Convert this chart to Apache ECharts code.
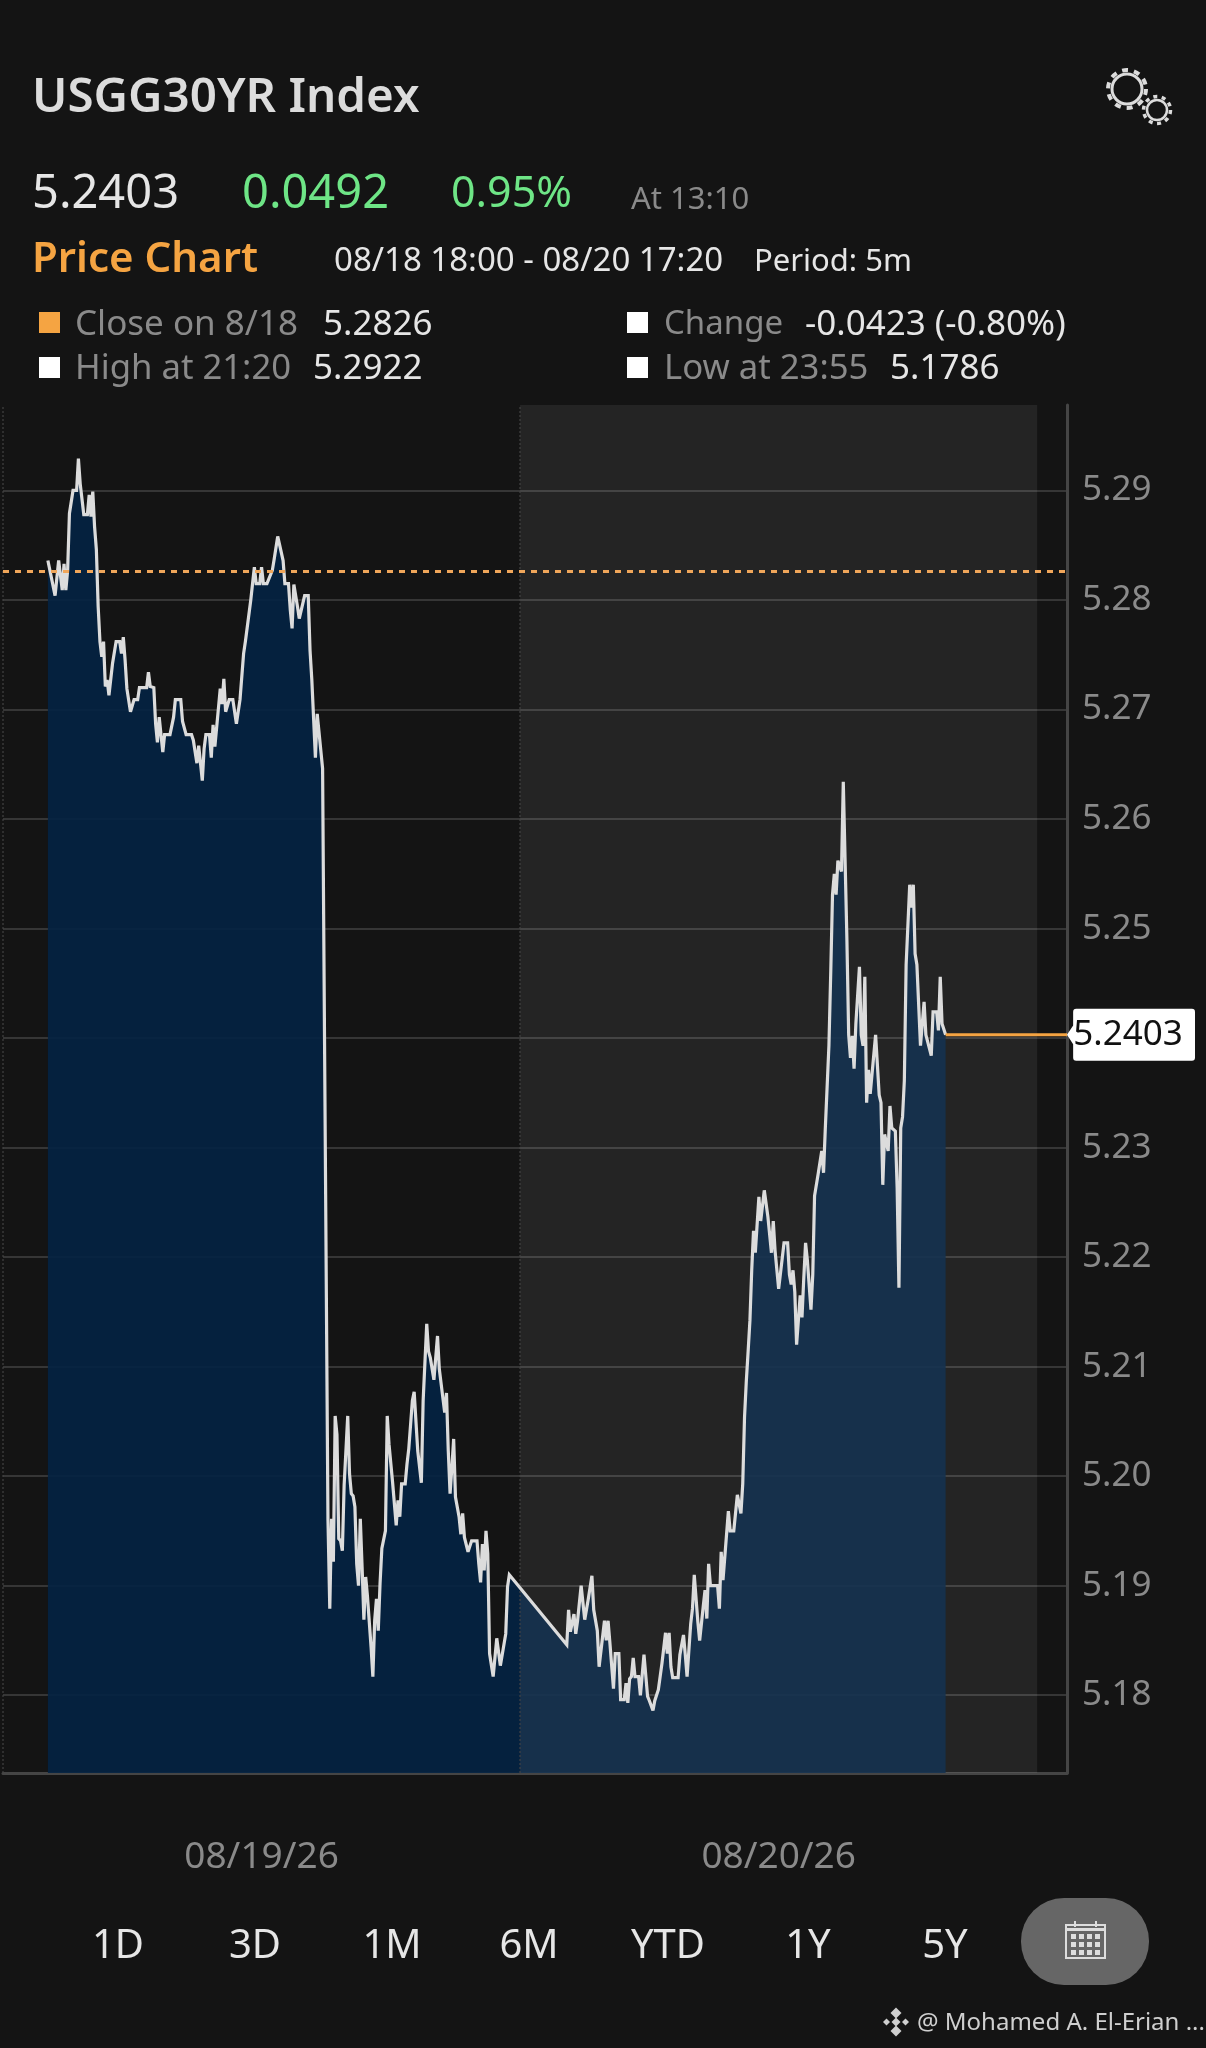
<!DOCTYPE html>
<html>
<head>
<meta charset="utf-8">
<style>html,body{margin:0;padding:0;background:#141414}#c{width:1206px;height:2048px}</style>
<script src="https://cdn.jsdelivr.net/npm/echarts@6/dist/echarts.min.js"></script>
</head>
<body>
<div id="c"></div>
<script>
// minutes since 08/18 18:00
const times = [125,145,150,155,160,165,170,175,180,185,190,195,205,210,215,225,235,240,245,250,255,260,265,270,275,280,285,290,295,305,315,325,330,335,340,345,350,355,360,365,375,380,400,405,410,420,425,430,435,440,445,450,465,475,480,495,500,505,510,525,530,540,545,550,555,560,565,575,580,585,590,595,605,610,615,620,625,630,640,650,655,660,665,670,675,680,690,695,700,705,715,720,725,735,750,755,760,765,770,780,785,795,800,805,810,820,825,830,840,850,855,860,870,875,880,890,895,
905,910,915,920,925,930,935,940,945,950,955,960,965,970,975,980,985,990,995,1000,1005,1010,1015,1025,1030,1035,1040,1045,1050,1055,1065,1070,1075,1085,1090,1095,1100,1105,1110,1120,1125,1130,1135,1140,1145,1150,1155,1165,1170,1180,1185,1190,1195,1200,1210,1215,1220,1230,1235,1240,1245,1250,1255,1260,1270,1275,1280,1285,1295,1300,1305,1320,1325,1330,1335,1340,1345,1350,1355,1360,1365,1375,1385,1390,1400,1405,1410,
1570,1575,1580,1585,1590,1595,1600,1605,1610,1615,1620,1625,1630,1635,1640,1645,1655,1660,1665,1675,1680,1685,1690,1695,1700,1705,1715,1720,1730,1735,1740,1745,1750,1755,1760,1770,1775,1785,1795,1800,1810,1815,1820,1825,1830,1835,1845,1850,1855,1860,1865,1880,1885,1890,1895,1900,1905,1915,1920,1925,1930,1935,1940,1950,1955,1960,1965,1970,1990,1995,2000,2005,2010,2015,2020,2025,2035,2045,2050,2055,2060,2065,2070,2075,
2080,2085,2090,2095,2105,2110,2120,2130,2140,2145,2150,2160,2165,2175,2185,2190,2195,2200,2205,2210,2220,2225,2230,2235,2240,2250,2255,2260,2270,2280,2285,2290,2295,2300,2305,2310,2315,2320,2325,2330,2335,2340,2345,2350,2355,2360,2365,2370,2375,2380,2385,2390,2395,2400,2405,2410,2415,2420,2430,2435,2440,2445,2450,2455,2465,2470,2475,2485,2490,2495,2500,2505,2510,2515,2520,2525,2530,2535,2540,2545,2555,2565,2570,2575,2585,2590,2600,2605,2610,2615,2625];
const yields = [5.2836,5.2804,5.2804,5.2836,5.2836,5.2809,5.2833,5.2809,5.2827,5.2879,5.2879,5.29,5.29,5.2929,5.2906,5.2878,5.2878,5.2896,5.2876,5.2899,5.2867,5.2846,5.2794,5.2762,5.2748,5.2762,5.2721,5.2727,5.2713,5.2742,5.2762,5.2762,5.2751,5.2766,5.2745,5.2719,5.2719,5.2698,5.2698,5.2709,5.2709,5.272,5.272,5.2734,5.2721,5.272,5.2687,5.267,5.2693,5.2677,5.2661,5.2677,5.2677,5.2693,5.2709,5.2709,5.2689,5.2688,5.2677,5.2677,5.2672,5.2651,5.2667,5.2667,5.2635,5.2664,5.2677,5.2677,5.2656,5.2686,5.2666,5.2666,5.2719,5.2705,5.2728,5.2698,5.2698,5.2709,5.2709,5.2687,5.2687,5.2709,5.2709,5.2751,5.2762,5.2762,5.28,5.2815,5.283,5.2815,5.2815,5.283,5.2815,5.2815,5.2827,5.2837,5.2837,5.2858,5.2858,5.2836,5.2815,5.2815,5.2791,5.2774,5.2814,5.2794,5.2783,5.2783,5.2804,5.2804,5.2754,5.2727,5.2656,5.2696,5.2696,5.2646,5.2645,
5.196,5.1879,5.1961,5.1922,5.2055,5.2038,5.1943,5.1941,5.1932,5.1992,5.1992,5.2055,5.2002,5.1984,5.1982,5.1972,5.192,5.19,5.1961,5.1917,5.1869,5.1908,5.189,5.1844,5.1817,5.1868,5.1888,5.1859,5.1902,5.1934,5.195,5.2055,5.2029,5.1994,5.1993,5.1955,5.1978,5.1963,5.1993,5.1993,5.2011,5.2025,5.2025,5.2069,5.2077,5.2077,5.2023,5.1994,5.2069,5.2139,5.2114,5.2108,5.2108,5.2088,5.2128,5.2098,5.2098,5.2058,5.2076,5.2023,5.1984,5.2008,5.2034,5.1981,5.1963,5.1947,5.1966,5.1944,5.1931,5.1931,5.1941,5.1941,5.192,5.1903,5.1938,5.1914,5.195,5.1929,5.1838,5.1837,5.1817,5.1852,5.1827,5.1827,5.1856,5.1899,5.191,
5.1846,5.1878,5.1858,5.1858,5.1874,5.1856,5.1868,5.1869,5.19,5.19,5.1869,5.1869,5.1888,5.1888,5.1909,5.1878,5.1859,5.1826,5.1826,5.1868,5.185,5.1868,5.1848,5.1848,5.1806,5.1838,5.1838,5.1796,5.1796,5.1811,5.1793,5.1815,5.1817,5.1834,5.1817,5.1817,5.18,5.1837,5.1799,5.1795,5.1786,5.1795,5.1796,5.1805,5.1806,5.1829,5.1857,5.1838,5.1857,5.1826,5.1816,5.1816,5.1837,5.1838,5.1855,5.1837,5.1817,5.1865,5.1879,5.191,5.191,5.1867,5.185,5.1881,5.1896,5.187,5.192,5.19,5.19,5.1879,5.1931,5.1905,5.1926,5.1947,5.1968,5.195,5.195,5.1983,5.1983,5.1966,5.1993,5.2054,5.2087,5.2114,
5.2142,5.2188,5.2224,5.2204,5.2255,5.2233,5.2261,5.2237,5.2204,5.2233,5.2206,5.2171,5.2171,5.2213,5.2213,5.2184,5.2175,5.2188,5.2168,5.212,5.2165,5.2145,5.2181,5.2213,5.2197,5.2152,5.2184,5.2256,5.2276,5.2297,5.2277,5.2318,5.2319,5.2393,5.2459,5.2531,5.255,5.2531,5.2562,5.2562,5.2552,5.2634,5.2563,5.2491,5.2403,5.2382,5.2402,5.2372,5.2413,5.2414,5.2465,5.2403,5.2393,5.2456,5.2341,5.2371,5.2349,5.2349,5.2403,5.2403,5.2348,5.2341,5.2266,5.2312,5.2297,5.2338,5.2318,5.2315,5.2263,5.2172,5.2318,5.2328,5.2361,5.2467,5.2467,5.254,5.2519,5.254,5.2477,5.2467,5.2393,5.2433,5.2403,5.2403,5.2384,5.2424,5.2424,5.2407,5.2456,5.2413,5.2403];
const prevClose = 5.2826;
const lastPrice = 5.2403;
const dayStart = 1440, dayEnd = 2880;
const xMax = 2963, yMin = 5.1729, yMax = 5.2978;
const gridValues = [5.18,5.19,5.20,5.21,5.22,5.23,5.24,5.25,5.26,5.27,5.28,5.29];
const yLabelTicks = [5.18,5.19,5.20,5.21,5.22,5.23,5.25,5.26,5.27,5.28,5.29];
const dateTicks = [720,2160];
const dateLabels = ['08/19/26','08/20/26'];
const rangeButtons = ['1D','3D','1M','6M','YTD','1Y','5Y'];
const buttonCenters = [118,255,392,529,668,808,945];

const FF = '"Noto Sans"';
const pts = times.map((t,i)=>[t,yields[i]]);
function T(text,x,y,size,fill,weight,align){
  return {type:'text',x:x,y:y,z:20,silent:true,style:{text:text,fill:fill,font:(weight||'normal')+' '+size+'px '+FF,textAlign:align||'left',textVerticalAlign:'middle'}};
}
const GRAY='#8a8a8a',WHITE='#e6e6e6',GREEN='#6ee586',ORANGE='#f5a442';
function R(x,y,w,h,fill,r){return {type:'rect',z:20,silent:true,shape:{x:x,y:y,width:w,height:h,r:r||0},style:{fill:fill}};}
function D(cx,cy,s,fill){return {type:'polygon',z:21,silent:true,shape:{points:[[cx,cy-s],[cx+s,cy],[cx,cy+s],[cx-s,cy]]},style:{fill:fill}};}
function gear(cx,cy,r,dash,lw){return [
  {type:'circle',z:20,silent:true,shape:{cx:cx,cy:cy,r:r},style:{fill:'none',stroke:'#dcdcdc',lineWidth:lw}},
  {type:'circle',z:20,silent:true,shape:{cx:cx,cy:cy,r:r+lw+1},style:{fill:'none',stroke:'#dcdcdc',lineWidth:lw+1,lineDash:dash}}
];}
const g=[
  T('USGG30YR Index',32,98,47.5,'#dcdcdc','600'),
  T('5.2403',32,195,47,WHITE),
  T('0.0492',242,195,47,GREEN),
  T('0.95%',451,195,43,GREEN),
  T('At 13:10',631,200,31,GRAY),
  T('Price Chart',32,260,42,ORANGE,'600'),
  T('08/18 18:00 - 08/20 17:20',334,262,33,WHITE),
  T('Period: 5m',754,262,31,WHITE),
  R(39,312,21,21,ORANGE),
  T('Close on 8/18',75,325,35,GRAY),
  T('5.2826',323,325,35,WHITE),
  R(627,312,21,21,'#fff'),
  T('Change',664,325,33,GRAY),
  T('-0.0423 (-0.80%)',805,325,35,WHITE),
  R(39,357,21,21,'#fff'),
  T('High at 21:20',75,369,34.7,GRAY),
  T('5.2922',313,369,35,WHITE),
  R(627,357,21,21,'#fff'),
  T('Low at 23:55',664,369,34.7,GRAY),
  T('5.1786',890,369,35,WHITE),
  ...gear(1127,89,15,[6,6],3),
  ...gear(1157,110,10,[4,4.5],2.5),
  R(1021,1898,128,87,'#666666',43),
  {type:'rect',z:21,silent:true,shape:{x:1066,y:1925,width:39,height:33},style:{fill:'none',stroke:'#dddddd',lineWidth:2}},
  R(1066,1928,39,3,'#dddddd'),R(1074,1921,2,6,'#dddddd'),R(1095,1921,2,6,'#dddddd'),
];
[0,1,2,3].forEach(i=>[0,1,2].forEach(j=>{const r=R(1071+i*8,1934+j*8,5,5,'#dddddd');r.z=21;g.push(r);}));
rangeButtons.forEach((b,i)=>g.push(T(b,buttonCenters[i],1947,40,WHITE,'normal','center')));
g.push(D(896,2013,5.5,'#cfcfcf'),D(896,2031,5.5,'#cfcfcf'),D(886.5,2022,3.5,'#cfcfcf'),D(905.5,2022,3.5,'#cfcfcf'),D(896,2022,4.5,'#cfcfcf'));
g.push(T('@ Mohamed A. El-Erian ...',917,2023,24,'#cfcfcf'));

const chart=echarts.init(document.getElementById('c'));
chart.setOption({
  backgroundColor:'#141414',
  animation:false,
  textStyle:{fontFamily:FF},
  grid:{left:3,right:139,top:405,bottom:275},
  xAxis:{type:'value',min:0,max:xMax,
    axisLine:{show:true,onZero:false,lineStyle:{color:'#454545',width:3}},
    axisTick:{show:false},splitLine:{show:false},
    axisLabel:{customValues:dateTicks,formatter:v=>dateLabels[dateTicks.indexOf(v)]||'',color:GRAY,fontSize:37,margin:66,fontFamily:FF}},
  yAxis:{type:'value',position:'right',min:yMin,max:yMax,
    axisLine:{show:true,onZero:false,lineStyle:{color:'#454545',width:3}},
    axisTick:{show:false},
    splitLine:{show:false},
    axisLabel:{customValues:yLabelTicks,formatter:v=>v.toFixed(2),color:GRAY,fontSize:35,margin:15,padding:[0,0,10,0],fontFamily:FF}},
  series:[
    {type:'line',z:0,data:[],silent:true,
      markLine:{z:0,silent:true,symbol:'none',label:{show:false},lineStyle:{color:'#363636',width:2,type:'solid'},
        data:gridValues.map(v=>({yAxis:v}))}},
    {type:'line',z:1,data:pts,symbol:'none',silent:true,lineStyle:{width:0},areaStyle:{origin:'start',color:'rgba(3,34,66,0.9)',opacity:1}},
    {type:'line',z:2,data:[],silent:true,
      markArea:{z:2,silent:true,itemStyle:{color:'rgba(255,255,255,0.07)'},data:[[{xAxis:dayStart},{xAxis:dayEnd}]]},
      markLine:{z:2,silent:true,symbol:'none',label:{show:false},lineStyle:{color:'rgba(70,70,70,0.55)',width:2,type:'dotted'},
        data:[{xAxis:0},{xAxis:dayStart}]}},
    {type:'line',z:3,data:pts,symbol:'none',silent:true,lineStyle:{color:'#dcdcdc',width:3.2,join:'miter',miterLimit:3}},
    {type:'line',z:4,data:[[times[times.length-1],lastPrice],[xMax,lastPrice]],symbol:'none',silent:true,clip:false,
      lineStyle:{color:ORANGE,width:3},
      markLine:{z:4,silent:true,symbol:'none',label:{show:false},lineStyle:{color:'#f0a65a',width:3,type:[6,6]},
        data:[[{coord:[0,prevClose]},{coord:[xMax,prevClose]}]]},
      markPoint:{silent:true,data:[{coord:[xMax,lastPrice],symbol:'path://M0 23.5 L6 15 L6 3 Q6 0 9 0 L122 0 Q125 0 125 3 L125 44 Q125 47 122 47 L9 47 Q6 47 6 44 L6 32 Z',symbolSize:[128,52],symbolOffset:[64,0],
        itemStyle:{color:'#fff'},
        label:{show:true,formatter:lastPrice.toFixed(4),color:'#111',fontSize:35,fontFamily:FF,position:'inside',offset:[-3,0]}}]}}
  ],
  graphic:{elements:g}
});
</script>
</body>
</html>
